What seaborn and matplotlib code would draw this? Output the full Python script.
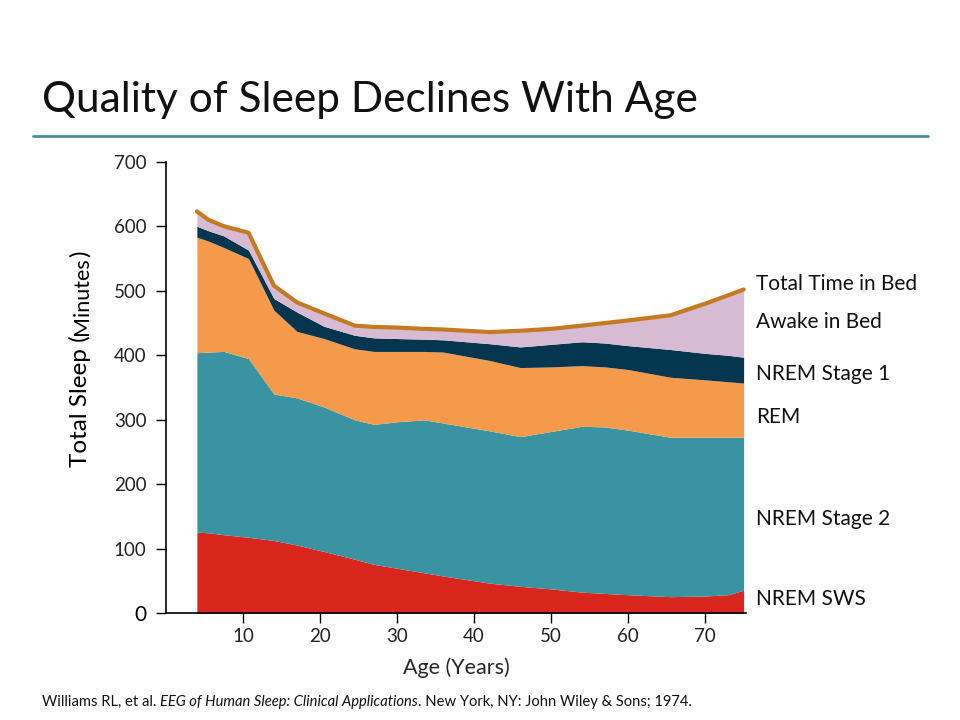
import matplotlib
matplotlib.use("Agg")
import matplotlib.pyplot as plt
import numpy as np
import pandas as pd
import seaborn as sns

sns.set_theme(style="ticks")
plt.rcParams["font.family"] = ["Lato", "DejaVu Sans"]

ages = [4, 5.5, 7.5, 10.7, 14, 17, 20.5, 24.5, 27, 30, 33.5, 36, 42, 46, 50,
        54, 57, 60, 65.5, 70, 73, 75]

# minutes spent in each stage (stacked bottom to top)
nrem_sws = [126, 125, 122, 118, 113, 106, 96, 84, 76, 70, 63, 58, 47, 42, 38,
            33, 31, 29, 26, 27, 29, 36]
nrem_stage2 = [278, 280, 284, 277, 227, 228, 224, 216, 217, 227, 237, 237, 236,
               232, 244, 257, 258, 255, 247, 246, 244, 237]
rem = [179, 172, 161, 155, 130, 103, 106, 110, 113, 109, 106, 110, 109, 107,
       100, 94, 93, 94, 93, 89, 86, 84]
nrem_stage1 = [17, 16, 18, 13, 18, 30, 19, 21, 21, 20, 19, 19, 26, 32, 35, 37,
               37, 37, 43, 41, 41, 40]
awake_in_bed = [23, 17, 15, 27, 20, 15, 20, 15, 17, 17, 16, 16, 18, 25, 24, 25,
                31, 39, 53, 77, 93, 105]

labels = ["NREM SWS", "NREM Stage 2", "REM", "NREM Stage 1", "Awake in Bed"]
colors = ["#D9261C", "#3A93A1", "#F59A4A", "#053650", "#D7BBD2"]
line_color = "#C57A22"

df = pd.DataFrame({
    "age": ages,
    "NREM SWS": nrem_sws,
    "NREM Stage 2": nrem_stage2,
    "REM": rem,
    "NREM Stage 1": nrem_stage1,
    "Awake in Bed": awake_in_bed,
})
df["Total Time in Bed"] = df[labels].sum(axis=1)

fig = plt.figure(figsize=(9.6, 7.2), dpi=100)
ax = fig.add_axes([0.173, 0.148, 0.604, 0.6274])

ax.stackplot(df["age"], [df[c] for c in labels], colors=colors, linewidth=0)
sns.lineplot(data=df, x="age", y="Total Time in Bed", color=line_color,
             linewidth=3, ax=ax)

ax.set_xlim(0, 75.3)
ax.set_ylim(0, 700)
ax.set_xticks(range(10, 80, 10))
ax.set_yticks(range(0, 800, 100))
sns.despine(ax=ax)
for s in ["left", "bottom"]:
    ax.spines[s].set_color("black")
    ax.spines[s].set_linewidth(1.2)
ax.tick_params(axis="both", direction="out", length=7, width=1, color="black",
               labelsize=13.5, labelcolor="#222222")
ax.tick_params(axis="y", pad=7)
# the zero label is drawn a bit bigger and darker in the original
ax.get_yticklabels()[0].set_fontsize(15)
ax.get_yticklabels()[0].set_color("black")
ax.set_xlabel("Age (Years)", fontsize=15.5, labelpad=9)
ax.set_ylabel("")

# y label: big "Total Sleep (", smaller "Minutes", then ")"
ya = fig.text(0.0835, 0.352, "Total Sleep (", rotation=90, fontsize=17.5,
              ha="center", va="bottom", color="black")
yb = ax.annotate("Minutes", xy=(0.6, 1), xycoords=ya, ha="center",
                 va="bottom", rotation=90, fontsize=15.5, color="black",
                 annotation_clip=False)
ax.annotate(")", xy=(0.5, 1), xycoords=yb, xytext=(-1.5, 0),
            textcoords="offset points", ha="center", va="bottom", rotation=90,
            fontsize=17.5, color="black", annotation_clip=False)

# labels at the right end of the stack
label_y = {"Total Time in Bed": 510, "Awake in Bed": 451, "NREM Stage 1": 371,
           "REM": 305, "NREM Stage 2": 146, "NREM SWS": 22}
trans = matplotlib.transforms.blended_transform_factory(ax.transAxes, ax.transData)
for name, yv in label_y.items():
    ax.text(1.018, yv, name, transform=trans, fontsize=15, va="center",
            ha="left", color="#111111")

# title and rule
fig.text(0.044, 0.861, "Quality of Sleep Declines With Age", fontsize=30.5,
         va="center", ha="left", color="#111111")
fig.add_artist(plt.Line2D([0.034, 0.967], [0.811, 0.811], color="#4A8E9C",
                          linewidth=2, transform=fig.transFigure))

# source note with italic book title
t1 = fig.text(0.044, 0.019, "Williams RL, et al. ", fontsize=10.6,
              color="#111111")
t2 = ax.annotate("EEG of Human Sleep: Clinical Applications", xy=(1, 0),
                 xycoords=t1, va="bottom", fontsize=10.6, style="italic",
                 color="#111111", annotation_clip=False)
ax.annotate(". New York, NY: John Wiley & Sons; 1974.", xy=(1, 0),
            xycoords=t2, va="bottom", fontsize=10.6, color="#111111",
            annotation_clip=False)

fig.savefig("out.png", dpi=100)
